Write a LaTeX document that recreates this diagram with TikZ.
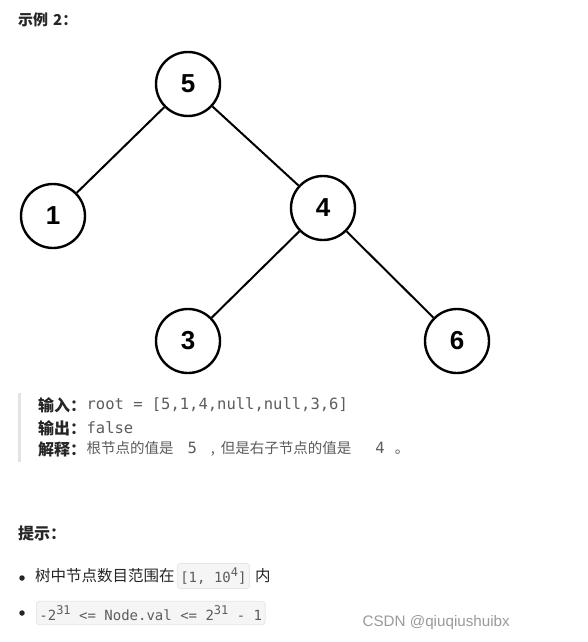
\documentclass[tikz,border=0pt]{standalone}
\usepackage{fontspec}
\setmainfont{Noto Sans CJK SC}
\setmonofont{DejaVu Sans Mono}
\newfontfamily\numfont{Liberation Sans}
\newfontfamily\markfont{Liberation Sans}
\usetikzlibrary{positioning}
\definecolor{inktext}{HTML}{262626}
\definecolor{codetext}{HTML}{5C5C5C}
\definecolor{quotebar}{HTML}{E3E3E3}
\definecolor{codefill}{HTML}{F5F5F5}
\definecolor{codeedge}{HTML}{E6E6E6}
\definecolor{wmark}{HTML}{9A9A9A}
\newcommand\upidx[1]{\raisebox{0.45em}{\fontsize{12}{12}\selectfont #1}}
\tikzset{
  treenode/.style={circle,draw=black,line width=2.4pt,minimum size=64pt,
                   inner sep=0pt,font=\numfont\bfseries\fontsize{26}{26}\selectfont},
  treeedge/.style={line width=2pt,draw=black},
  plain/.style   ={anchor=west,inner sep=0pt,text=inktext,
                   font=\fontsize{15.5}{17}\selectfont},
  heading/.style ={plain,font=\bfseries\fontsize{16}{18}\selectfont},
  codeline/.style={plain,text=codetext,font=\ttfamily\fontsize{15.5}{17}\selectfont},
  codebox/.style ={anchor=west,rounded corners=3pt,fill=codefill,draw=codeedge,
                   line width=0.8pt,inner xsep=3pt,inner ysep=4pt,text=codetext,
                   minimum height=22pt,font=\ttfamily\fontsize{14}{15}\selectfont},
  bullet/.style  ={circle,fill=inktext,inner sep=0pt,minimum size=5.5pt}
}
\begin{document}
\begin{tikzpicture}[x=1pt,y=-1pt]
  \useasboundingbox[fill=white] (0,0) rectangle (587,642);
  % title
  \node[heading,font=\bfseries\fontsize{15}{17}\selectfont] (title) at (18,20)
    {示例\hspace{5pt}2：};
  % tree
  \node[treenode] (n5) at (188,84)  {5};
  \node[treenode] (n1) at (53,216)  {1};
  \node[treenode] (n4) at (323,208) {4};
  \node[treenode] (n3) at (188,341) {3};
  \node[treenode] (n6) at (457,341) {6};
  \draw[treeedge] (n5) -- (n1);
  \draw[treeedge] (n5) -- (n4);
  \draw[treeedge] (n4) -- (n3);
  \draw[treeedge] (n4) -- (n6);
  % example block
  \coordinate (bartop) at (19,393);
  \coordinate (barbot) at (19,462);
  \draw[quotebar,line width=3pt] (bartop) -- (barbot);
  \node[heading] (inlbl) at (38,405) {输入：};
  \node[codeline,right=0pt of inlbl] (inval) {root = [5,1,4,null,null,3,6]};
  \node[heading] (outlbl) at (38,428) {输出：};
  \node[codeline,right=0pt of outlbl] (outval) {false};
  \node[heading] (whylbl) at (38,449) {解释：};
  \node[plain,right=0pt of whylbl,text=codetext,font=\fontsize{14.5}{16}\selectfont]
    (whyval) {根节点的值是\hspace{14pt}{\ttfamily\fontsize{15.5}{16}\selectfont 5}%
    \hspace{14pt},\hspace{6pt}但是右子节点的值是\hspace{24pt}%
    {\ttfamily\fontsize{15.5}{16}\selectfont 4}\hspace{10pt}。};
  % hints
  \node[heading] (hint) at (18,533) {提示：};
  \node[bullet] (b1) at (22,578) {};
  \node[plain] (h1) at (35,576) {树中节点数目范围在};
  \node[codebox,right=2pt of h1] (h1code) {[1, 10\upidx{4}]};
  \node[plain,right=5pt of h1code] (h1tail) {内};
  \node[bullet] (b2) at (22,613) {};
  \node[codebox] (h2code) at (36,613)
    {-2\upidx{31} <= Node.val <= 2\upidx{31} - 1};
  % watermark
  \node[anchor=east,inner sep=0pt,text=wmark,font=\markfont\fontsize{15.2}{16}\selectfont]
    (mark) at (510,623) {CSDN @qiuqiushuibx};
\end{tikzpicture}
\end{document}
